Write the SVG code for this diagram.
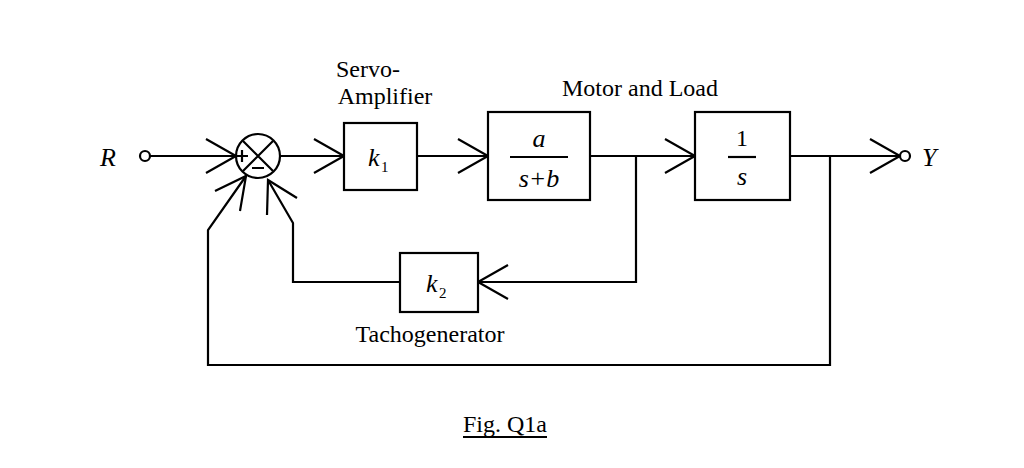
<svg xmlns="http://www.w3.org/2000/svg" width="1024" height="468" viewBox="0 0 1024 468">
<style>
.l{fill:none;stroke:#000;stroke-width:2.2}
.b{fill:#fff;stroke:#000;stroke-width:2.2}
text{font-family:"Liberation Serif",serif;fill:#000}
.t{font-size:24px}
.i{font-size:26px;font-style:italic}
.s{font-size:15px}
</style>
<rect width="1024" height="468" fill="#fff"/>
<g id="connectors">
<path class="l" d="M150 156H236M280 156H344M417 156H488M590 156H695M790 156H900"/>
<path class="l" d="M636 156V282H478M400 282H293V223L268 180"/>
<path class="l" d="M830 156V365H208V230L246 176"/>
<g class="l">
<path d="M206 139L236 156L206 173"/>
<path d="M314 139L344 156L314 173"/>
<path d="M458 139L488 156L458 173"/>
<path d="M665 139L695 156L665 173"/>
<path d="M870 139L900 156L870 173"/>
<path d="M508 265L478 282L508 299"/>
<path d="M215 191L246 176L240 211"/>
<path d="M267 215L268 180L297 198"/>
</g>
</g>
<g id="R"><circle class="b" cx="145" cy="156" r="5"/><text class="i" x="100" y="166">R</text></g>
<g id="sum"><circle class="b" cx="258" cy="156" r="22"/><path class="l" d="M243 141L273 171M273 141L243 171"/><path class="l" d="M242 150V162M236 156H248M252 168H264"/></g>
<g id="k1"><rect class="b" x="344" y="123" width="73" height="67"/><text class="i" x="368" y="166">k</text><text class="s" x="381" y="172" font-family="Liberation Serif">1</text></g>
<g id="plant"><rect class="b" x="488" y="112" width="102" height="88"/><text class="i" x="539" y="147" text-anchor="middle">a</text><path class="l" d="M510 157H568"/><text class="i" x="539" y="187" text-anchor="middle">s+b</text></g>
<g id="int"><rect class="b" x="695" y="112" width="95" height="88"/><text class="t" x="742" y="146" text-anchor="middle">1</text><path class="l" d="M728 157H756"/><text class="i" x="742" y="185" text-anchor="middle">s</text></g>
<g id="k2"><rect class="b" x="400" y="253" width="78" height="59"/><text class="i" x="426" y="292">k</text><text class="s" x="439" y="298">2</text></g>
<g id="Y"><circle class="b" cx="905" cy="156" r="5"/><text class="i" x="922" y="166">Y</text></g>
<text class="t" x="368" y="77" text-anchor="middle">Servo-</text>
<text class="t" x="385" y="104" text-anchor="middle">Amplifier</text>
<text class="t" x="640" y="96" text-anchor="middle">Motor and Load</text>
<text class="t" x="430" y="342" text-anchor="middle">Tachogenerator</text>
<text class="t" x="505" y="432" text-anchor="middle">Fig. Q1a</text>
<path class="l" d="M463 437H547" stroke-width="1.5"/>
</svg>
